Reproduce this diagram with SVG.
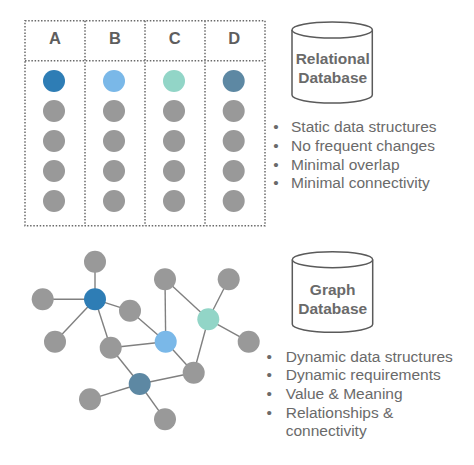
<svg xmlns="http://www.w3.org/2000/svg" width="474" height="465" viewBox="0 0 474 465">
<style>
text{font-family:"Liberation Sans",Arial,sans-serif;fill:#6a6a6a}
.hd{font-size:16.500px;font-weight:bold;text-anchor:middle;fill:#5e5e5e}
.db{font-size:15.500px;font-weight:bold;text-anchor:middle}
.li{font-size:15.500px}
.bu{font-size:15.500px;text-anchor:middle}
.grid{fill:none;stroke:#6a6a6a;stroke-width:1.5;stroke-dasharray:1.500 1.700}
.g{fill:#999}.a{fill:#2e7db5}.b{fill:#7ab8e8}.c{fill:#92d5c7}.d{fill:#5d88a3}
.cyl{fill:#fff;stroke:#5a5a5a;stroke-width:1.5}
#connectors line{stroke:#808080;stroke-width:1.4}
</style>
<rect width="474" height="465" fill="#fff"/>
<g id="table">
<path class="grid" d="M25 20.700H265V225.700H25ZM25 60.700H265M85 20.700V225.700M145 20.700V225.700M205 20.700V225.700"/>
<text class="hd" x="55" y="44">A</text><text class="hd" x="115" y="44">B</text><text class="hd" x="174.700" y="44">C</text><text class="hd" x="234.300" y="44">D</text>
<g id="col-a"><circle class="a" cx="54" cy="81" r="11"/><circle class="g" cx="54" cy="111" r="11"/><circle class="g" cx="54" cy="141" r="11"/><circle class="g" cx="54" cy="171" r="11"/><circle class="g" cx="54" cy="201" r="11"/></g>
<g id="col-b"><circle class="b" cx="114" cy="81" r="11"/><circle class="g" cx="114" cy="111" r="11"/><circle class="g" cx="114" cy="141" r="11"/><circle class="g" cx="114" cy="171" r="11"/><circle class="g" cx="114" cy="201" r="11"/></g>
<g id="col-c"><circle class="c" cx="174" cy="81" r="11"/><circle class="g" cx="174" cy="111" r="11"/><circle class="g" cx="174" cy="141" r="11"/><circle class="g" cx="174" cy="171" r="11"/><circle class="g" cx="174" cy="201" r="11"/></g>
<g id="col-d"><circle class="d" cx="233.700" cy="81" r="11"/><circle class="g" cx="233.700" cy="111" r="11"/><circle class="g" cx="233.700" cy="141" r="11"/><circle class="g" cx="233.700" cy="171" r="11"/><circle class="g" cx="233.700" cy="201" r="11"/></g>
</g>
<g id="relational-db">
<path class="cyl" d="M292 30V95C292 99.500 310 103 332.200 103S372.300 99.500 372.300 95V30"/>
<ellipse class="cyl" cx="332.200" cy="30" rx="40.200" ry="8"/>
<text class="db" x="332.700" y="64.300">Relational</text><text class="db" x="332.700" y="83">Database</text>
</g>
<g id="relational-list">
<text class="bu" x="276" y="132.300">•</text><text class="li" x="291" y="132.300">Static data structures</text>
<text class="bu" x="276" y="151">•</text><text class="li" x="291" y="151">No frequent changes</text>
<text class="bu" x="276" y="169.700">•</text><text class="li" x="291" y="169.700">Minimal overlap</text>
<text class="bu" x="276" y="188.300">•</text><text class="li" x="291" y="188.300">Minimal connectivity</text>
</g>
<g id="connectors">
<line x1="95" y1="299.300" x2="95" y2="261.700"/>
<line x1="95" y1="299.300" x2="42.700" y2="299.300"/>
<line x1="95" y1="299.300" x2="55" y2="341.700"/>
<line x1="95" y1="299.300" x2="130" y2="310.700"/>
<line x1="95" y1="299.300" x2="110.700" y2="347.700"/>
<line x1="130" y1="310.700" x2="165.700" y2="341.700"/>
<line x1="110.700" y1="347.700" x2="165.700" y2="341.700"/>
<line x1="165.700" y1="341.700" x2="165" y2="279.300"/>
<line x1="165" y1="279.300" x2="208.300" y2="319.300"/>
<line x1="208.300" y1="319.300" x2="228.700" y2="279.300"/>
<line x1="208.300" y1="319.300" x2="248.700" y2="341.700"/>
<line x1="208.300" y1="319.300" x2="193.700" y2="372.700"/>
<line x1="165.700" y1="341.700" x2="193.700" y2="372.700"/>
<line x1="110.700" y1="347.700" x2="139.700" y2="384"/>
<line x1="139.700" y1="384" x2="193.700" y2="372.700"/>
<line x1="139.700" y1="384" x2="90" y2="399.300"/>
<line x1="139.700" y1="384" x2="165" y2="419.300"/>
</g>
<g id="n1"><circle class="g" cx="95" cy="261.700" r="11"/></g>
<g id="n2"><circle class="g" cx="42.700" cy="299.300" r="11"/></g>
<g id="n3"><circle class="a" cx="95" cy="299.300" r="11"/></g>
<g id="n4"><circle class="g" cx="55" cy="341.700" r="11"/></g>
<g id="n5"><circle class="g" cx="130" cy="310.700" r="11"/></g>
<g id="n6"><circle class="g" cx="110.700" cy="347.700" r="11"/></g>
<g id="n7"><circle class="b" cx="165.700" cy="341.700" r="11"/></g>
<g id="n8"><circle class="g" cx="165" cy="279.300" r="11"/></g>
<g id="n9"><circle class="c" cx="208.300" cy="319.300" r="11"/></g>
<g id="n10"><circle class="g" cx="228.700" cy="279.300" r="11"/></g>
<g id="n11"><circle class="g" cx="248.700" cy="341.700" r="11"/></g>
<g id="n12"><circle class="g" cx="193.700" cy="372.700" r="11"/></g>
<g id="n13"><circle class="d" cx="139.700" cy="384" r="11"/></g>
<g id="n14"><circle class="g" cx="90" cy="399.300" r="11"/></g>
<g id="n15"><circle class="g" cx="165" cy="419.300" r="11"/></g>
<g id="graph-db">
<path class="cyl" d="M292.300 259.700V324.300C292.300 328.800 310 332.300 332.500 332.300S372.700 328.800 372.700 324.300V259.700"/>
<ellipse class="cyl" cx="332.500" cy="259.700" rx="40.200" ry="8"/>
<text class="db" x="332.700" y="295">Graph</text><text class="db" x="332.700" y="313.700">Database</text>
</g>
<g id="graph-list">
<text class="bu" x="269.300" y="361.700">•</text><text class="li" x="285.700" y="361.700">Dynamic data structures</text>
<text class="bu" x="269.300" y="380.300">•</text><text class="li" x="285.700" y="380.300">Dynamic requirements</text>
<text class="bu" x="269.300" y="399">•</text><text class="li" x="285.700" y="399">Value &amp; Meaning</text>
<text class="bu" x="269.300" y="417.700">•</text><text class="li" x="285.700" y="417.700">Relationships &amp;</text>
<text class="li" x="285.700" y="436.300">connectivity</text>
</g>
</svg>
